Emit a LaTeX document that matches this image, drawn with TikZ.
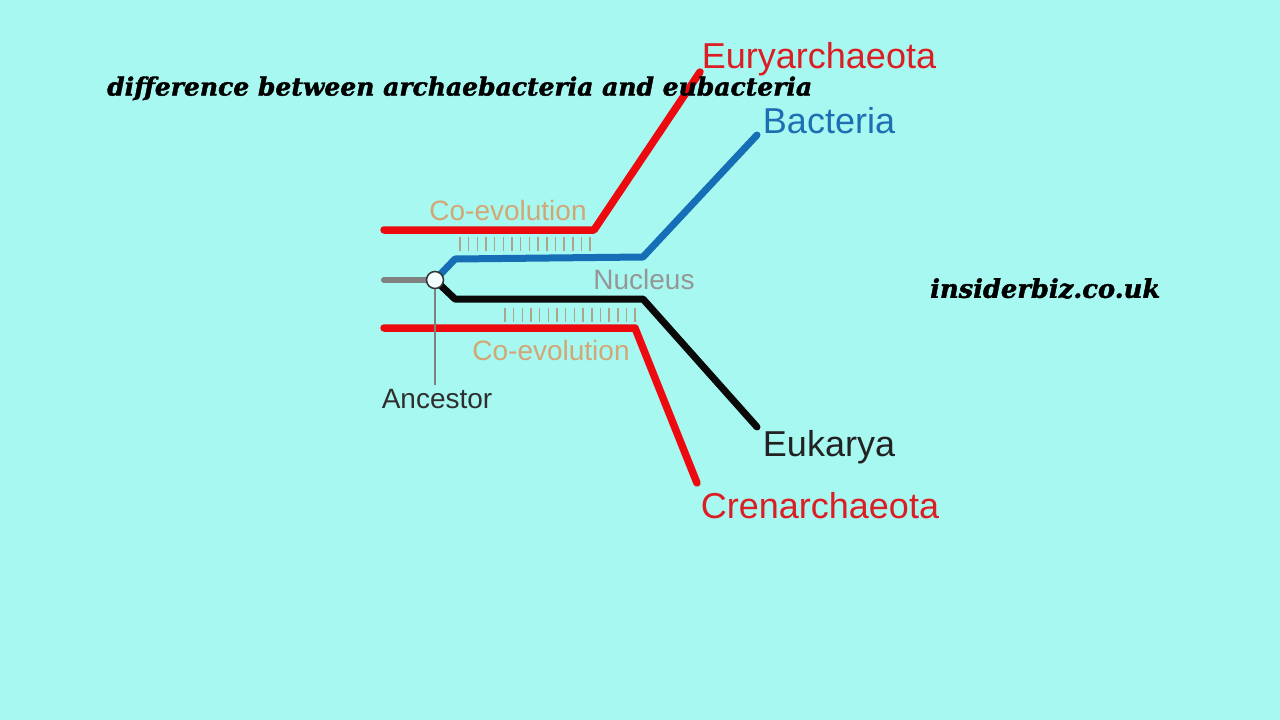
\documentclass[tikz,border=0pt]{standalone}
\usepackage{fontspec}
\setmainfont{Liberation Sans}
\newfontfamily\titlefont{DejaVu Serif}[BoldItalicFeatures={FakeBold=1.6}]
\definecolor{bgc}{RGB}{167,248,240}
\definecolor{redl}{RGB}{236,10,14}
\definecolor{bluel}{RGB}{22,110,182}
\definecolor{blackl}{RGB}{10,10,10}
\definecolor{grayl}{RGB}{128,128,128}
\definecolor{tanc}{RGB}{212,166,118}
\definecolor{tickc}{RGB}{176,164,140}
\definecolor{redt}{RGB}{220,30,36}
\definecolor{bluet}{RGB}{30,110,180}
\definecolor{nucc}{RGB}{150,150,150}
\tikzset{
  branch/.style={line width=7.5pt, line cap=round, line join=round},
  lbl/.style={inner sep=0pt, text depth=0pt},
  tick/.style={draw=tickc, line width=1.6pt},
}
\begin{document}
\begin{tikzpicture}[x=1pt,y=-1pt]
\fill[bgc] (0,0) rectangle (1280,720);
\useasboundingbox (0,0) rectangle (1280,720);
% coordinates
\coordinate (anc) at (435,280);
\coordinate (g0) at (384,280);
\coordinate (r1a) at (384,230);
\coordinate (r1b) at (594,230);
\coordinate (r1c) at (700,72);
\coordinate (b1) at (455,259);
\coordinate (b2) at (643,257);
\coordinate (b3) at (757,135);
\coordinate (k1) at (455,299);
\coordinate (k2) at (643,299);
\coordinate (k3) at (757,427);
\coordinate (r2a) at (384,328);
\coordinate (r2b) at (635,328);
\coordinate (r2c) at (697,483);
\coordinate (vl) at (435,385);
% ticks
\foreach \i in {0,...,15} {
  \draw[tick] ({460+\i*8.67},237) -- ({460+\i*8.67},251);
  \draw[tick] ({505+\i*8.67},308) -- ({505+\i*8.67},322);
}
% branches
\draw[branch, grayl, line width=6pt] (g0) -- (anc);
\draw[branch, redl] (r1a) -- (r1b) -- (r1c);
\draw[branch, redl] (r2a) -- (r2b) -- (r2c);
\draw[branch, bluel, line width=7pt] (anc) -- (b1) -- (b2) -- (b3);
\draw[branch, blackl, line width=7pt] (anc) -- (k1) -- (k2) -- (k3);
\draw[grayl, line width=1.5pt] (anc) -- (vl);
\node[circle, draw=black!80, line width=1.5pt, fill=white!85!bgc, minimum size=17pt, inner sep=0pt] (ancnode) at (anc) {};
% labels
\node[lbl, text=tanc, font=\fontsize{28}{30}\selectfont] (co1) at (508,210) {Co-evolution};
\node[lbl, text=tanc, font=\fontsize{28}{30}\selectfont] (co2) at (551,350) {Co-evolution};
\node[lbl, text=nucc, font=\fontsize{28}{30}\selectfont] (nuc) at (644,279) {Nucleus};
\node[lbl, text=blackl!85, font=\fontsize{28}{30}\selectfont] (ancl) at (437,399) {Ancestor};
\node[lbl, text=redt, font=\fontsize{36}{38}\selectfont] (eury) at (819,55) {Euryarchaeota};
\node[lbl, text=bluet, font=\fontsize{36}{38}\selectfont] (bact) at (829,120) {Bacteria};
\node[lbl, text=blackl!90, font=\fontsize{36}{38}\selectfont] (euk) at (829,443) {Eukarya};
\node[lbl, text=redt, font=\fontsize{36}{38}\selectfont] (cren) at (820,505) {Crenarchaeota};
% title and watermark
\node[lbl, anchor=west] (title) at (107,86) {\resizebox{705pt}{!}{\titlefont\bfseries\itshape\fontsize{26}{28}\selectfont difference between archaebacteria and eubacteria}};
\node[lbl, anchor=west] (site) at (930,288) {\resizebox{230pt}{!}{\titlefont\bfseries\itshape\fontsize{26}{28}\selectfont insiderbiz.co.uk}};
\end{tikzpicture}
\end{document}
